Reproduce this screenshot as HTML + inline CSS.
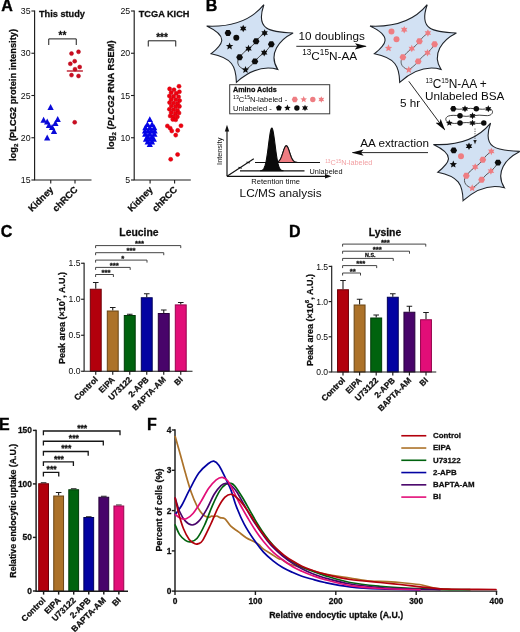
<!DOCTYPE html>
<html lang="en"><head><meta charset="utf-8"><title>Figure</title>
<style>html,body{margin:0;padding:0;background:#fff}svg{display:block}text{font-family:"Liberation Sans", Arial, sans-serif;fill:#0b0b0b}.b{font-weight:700}.pl{font-weight:700;font-size:16px;fill:#000;stroke:#000;stroke-width:0.35px}.b{stroke:#151515;stroke-width:0.28px}</style></head><body>
<svg width="520" height="632" viewBox="0 0 520 632">
<rect width="520" height="632" fill="#fff"/>
<text class="pl" x="1.2" y="11.4">A</text>
<text class="pl" x="205.8" y="11.2">B</text>
<text class="pl" x="0.7" y="237.3">C</text>
<text class="pl" x="288.9" y="237.3">D</text>
<text class="pl" x="-1.1" y="430.3">E</text>
<text class="pl" x="147" y="430.4">F</text>
<g>
<path d="M34.60,10.4 V180 H91.50" fill="none" stroke="#1c1c1c" stroke-width="1.15"/>
<path d="M31.40,11.00 H34.60" stroke="#1c1c1c" stroke-width="1.1"/>
<text x="30.60" y="14.10" font-size="8.8" text-anchor="end">35</text>
<path d="M31.40,53.25 H34.60" stroke="#1c1c1c" stroke-width="1.1"/>
<text x="30.60" y="56.35" font-size="8.8" text-anchor="end">30</text>
<path d="M31.40,95.50 H34.60" stroke="#1c1c1c" stroke-width="1.1"/>
<text x="30.60" y="98.60" font-size="8.8" text-anchor="end">25</text>
<path d="M31.40,137.75 H34.60" stroke="#1c1c1c" stroke-width="1.1"/>
<text x="30.60" y="140.85" font-size="8.8" text-anchor="end">20</text>
<path d="M31.40,180.00 H34.60" stroke="#1c1c1c" stroke-width="1.1"/>
<text x="30.60" y="183.10" font-size="8.8" text-anchor="end">15</text>
<path d="M50.75,180 V183.4" stroke="#1c1c1c" stroke-width="1.1"/>
<path d="M75.00,180 V183.4" stroke="#1c1c1c" stroke-width="1.1"/>
<text class="b" x="39.00" y="17.2" font-size="9.2">This study</text>
<text class="b" font-size="9.3" text-anchor="middle" transform="translate(15.50,95) rotate(-90)">log<tspan font-size="6.2" dy="2">2</tspan><tspan dy="-2"> </tspan>(PLCG2 protein intensity)</text>
<text class="b" font-size="9.3" text-anchor="end" transform="translate(53.95,190.30) rotate(-45)">Kidney</text>
<text class="b" font-size="9.3" text-anchor="end" transform="translate(78.20,190.30) rotate(-45)">chRCC</text>
</g>
<g>
<path d="M134.20,10.4 V180 H190.80" fill="none" stroke="#1c1c1c" stroke-width="1.15"/>
<path d="M131.00,11.00 H134.20" stroke="#1c1c1c" stroke-width="1.1"/>
<text x="130.20" y="14.10" font-size="8.8" text-anchor="end">25</text>
<path d="M131.00,53.25 H134.20" stroke="#1c1c1c" stroke-width="1.1"/>
<text x="130.20" y="56.35" font-size="8.8" text-anchor="end">20</text>
<path d="M131.00,95.50 H134.20" stroke="#1c1c1c" stroke-width="1.1"/>
<text x="130.20" y="98.60" font-size="8.8" text-anchor="end">15</text>
<path d="M131.00,137.75 H134.20" stroke="#1c1c1c" stroke-width="1.1"/>
<text x="130.20" y="140.85" font-size="8.8" text-anchor="end">10</text>
<path d="M131.00,180.00 H134.20" stroke="#1c1c1c" stroke-width="1.1"/>
<text x="130.20" y="183.10" font-size="8.8" text-anchor="end">5</text>
<path d="M150.10,180 V183.4" stroke="#1c1c1c" stroke-width="1.1"/>
<path d="M174.60,180 V183.4" stroke="#1c1c1c" stroke-width="1.1"/>
<text class="b" x="138.75" y="17.2" font-size="9.2">TCGA KICH</text>
<text class="b" font-size="9.3" text-anchor="middle" transform="translate(114.30,95) rotate(-90)">log<tspan font-size="6.2" dy="2">2</tspan><tspan dy="-2"> </tspan>(<tspan font-style="italic">PLCG2</tspan> RNA RSEM)</text>
<text class="b" font-size="9.3" text-anchor="end" transform="translate(153.30,190.30) rotate(-45)">Kidney</text>
<text class="b" font-size="9.3" text-anchor="end" transform="translate(177.80,190.30) rotate(-45)">chRCC</text>
</g>
<path d="M48.75,45 V38.9 H76.25 V45" fill="none" stroke="#1c1c1c" stroke-width="1"/>
<text class="b" x="62.5" y="38.6" font-size="10" text-anchor="middle">**</text>
<path d="M148.25,46.5 V40.8 H175.75 V46.5" fill="none" stroke="#1c1c1c" stroke-width="1"/>
<text class="b" x="162" y="40.6" font-size="10" text-anchor="middle">***</text>
<polygon points="50.60,103.90 47.45,109.90 53.75,109.90" fill="#0a0ad8"/>
<polygon points="43.60,116.70 40.45,122.70 46.75,122.70" fill="#0a0ad8"/>
<polygon points="47.20,118.60 44.05,124.60 50.35,124.60" fill="#0a0ad8"/>
<polygon points="57.70,116.10 54.55,122.10 60.85,122.10" fill="#0a0ad8"/>
<polygon points="49.00,122.10 45.85,128.10 52.15,128.10" fill="#0a0ad8"/>
<polygon points="52.10,123.90 48.95,129.90 55.25,129.90" fill="#0a0ad8"/>
<polygon points="55.40,120.10 52.25,126.10 58.55,126.10" fill="#0a0ad8"/>
<polygon points="54.00,127.90 50.85,133.90 57.15,133.90" fill="#0a0ad8"/>
<polygon points="47.20,134.60 44.05,140.60 50.35,140.60" fill="#0a0ad8"/>
<circle cx="71.50" cy="53.60" r="2.00" fill="#cc0c20" stroke="#b40a1c" stroke-width="0.5"/>
<circle cx="78.50" cy="51.80" r="2.00" fill="#cc0c20" stroke="#b40a1c" stroke-width="0.5"/>
<circle cx="74.70" cy="61.20" r="2.00" fill="#cc0c20" stroke="#b40a1c" stroke-width="0.5"/>
<circle cx="70.30" cy="63.80" r="2.00" fill="#cc0c20" stroke="#b40a1c" stroke-width="0.5"/>
<circle cx="79.70" cy="67.00" r="2.00" fill="#cc0c20" stroke="#b40a1c" stroke-width="0.5"/>
<circle cx="75.00" cy="69.20" r="2.00" fill="#cc0c20" stroke="#b40a1c" stroke-width="0.5"/>
<circle cx="71.50" cy="75.10" r="2.00" fill="#cc0c20" stroke="#b40a1c" stroke-width="0.5"/>
<circle cx="78.50" cy="76.00" r="2.00" fill="#cc0c20" stroke="#b40a1c" stroke-width="0.5"/>
<circle cx="74.70" cy="122.30" r="2.00" fill="#cc0c20" stroke="#b40a1c" stroke-width="0.5"/>
<path d="M66.8,71 H82.9" stroke="#b80a1c" stroke-width="1.3"/>
<polygon points="149.80,116.16 146.70,122.06 152.90,122.06" fill="#0505e6"/>
<polygon points="147.40,121.16 144.30,127.06 150.50,127.06" fill="#0505e6"/>
<polygon points="152.10,121.16 149.00,127.06 155.20,127.06" fill="#0505e6"/>
<polygon points="145.40,124.35 142.30,130.25 148.50,130.25" fill="#0505e6"/>
<polygon points="149.80,124.35 146.70,130.25 152.90,130.25" fill="#0505e6"/>
<polygon points="154.20,124.35 151.10,130.25 157.30,130.25" fill="#0505e6"/>
<polygon points="145.00,127.56 141.90,133.46 148.10,133.46" fill="#0505e6"/>
<polygon points="148.20,127.56 145.10,133.46 151.30,133.46" fill="#0505e6"/>
<polygon points="151.40,127.56 148.30,133.46 154.50,133.46" fill="#0505e6"/>
<polygon points="154.60,127.56 151.50,133.46 157.70,133.46" fill="#0505e6"/>
<polygon points="145.20,130.75 142.10,136.66 148.30,136.66" fill="#0505e6"/>
<polygon points="149.80,130.75 146.70,136.66 152.90,136.66" fill="#0505e6"/>
<polygon points="154.40,130.75 151.30,136.66 157.50,136.66" fill="#0505e6"/>
<polygon points="147.50,133.56 144.40,139.46 150.60,139.46" fill="#0505e6"/>
<polygon points="152.10,133.56 149.00,139.46 155.20,139.46" fill="#0505e6"/>
<polygon points="146.00,135.95 142.90,141.85 149.10,141.85" fill="#0505e6"/>
<polygon points="150.00,135.95 146.90,141.85 153.10,141.85" fill="#0505e6"/>
<polygon points="153.80,135.95 150.70,141.85 156.90,141.85" fill="#0505e6"/>
<polygon points="147.70,138.56 144.60,144.46 150.80,144.46" fill="#0505e6"/>
<polygon points="152.00,138.56 148.90,144.46 155.10,144.46" fill="#0505e6"/>
<polygon points="149.80,141.06 146.70,146.96 152.90,146.96" fill="#0505e6"/>
<circle cx="179.00" cy="86.30" r="2.05" fill="#f0000e" stroke="#cc000e" stroke-width="0.5"/>
<circle cx="169.60" cy="88.90" r="2.05" fill="#f0000e" stroke="#cc000e" stroke-width="0.5"/>
<circle cx="174.00" cy="89.80" r="2.05" fill="#f0000e" stroke="#cc000e" stroke-width="0.5"/>
<circle cx="179.40" cy="91.80" r="2.05" fill="#f0000e" stroke="#cc000e" stroke-width="0.5"/>
<circle cx="171.20" cy="92.60" r="2.05" fill="#f0000e" stroke="#cc000e" stroke-width="0.5"/>
<circle cx="176.20" cy="93.40" r="2.05" fill="#f0000e" stroke="#cc000e" stroke-width="0.5"/>
<circle cx="169.40" cy="96.00" r="2.05" fill="#f0000e" stroke="#cc000e" stroke-width="0.5"/>
<circle cx="173.60" cy="96.40" r="2.05" fill="#f0000e" stroke="#cc000e" stroke-width="0.5"/>
<circle cx="178.60" cy="96.80" r="2.05" fill="#f0000e" stroke="#cc000e" stroke-width="0.5"/>
<circle cx="171.20" cy="99.40" r="2.05" fill="#f0000e" stroke="#cc000e" stroke-width="0.5"/>
<circle cx="175.80" cy="99.80" r="2.05" fill="#f0000e" stroke="#cc000e" stroke-width="0.5"/>
<circle cx="179.60" cy="100.60" r="2.05" fill="#f0000e" stroke="#cc000e" stroke-width="0.5"/>
<circle cx="169.60" cy="102.60" r="2.05" fill="#f0000e" stroke="#cc000e" stroke-width="0.5"/>
<circle cx="173.60" cy="103.00" r="2.05" fill="#f0000e" stroke="#cc000e" stroke-width="0.5"/>
<circle cx="177.60" cy="103.60" r="2.05" fill="#f0000e" stroke="#cc000e" stroke-width="0.5"/>
<circle cx="171.40" cy="106.00" r="2.05" fill="#f0000e" stroke="#cc000e" stroke-width="0.5"/>
<circle cx="175.60" cy="106.60" r="2.05" fill="#f0000e" stroke="#cc000e" stroke-width="0.5"/>
<circle cx="179.40" cy="106.40" r="2.05" fill="#f0000e" stroke="#cc000e" stroke-width="0.5"/>
<circle cx="169.40" cy="109.20" r="2.05" fill="#f0000e" stroke="#cc000e" stroke-width="0.5"/>
<circle cx="173.40" cy="109.80" r="2.05" fill="#f0000e" stroke="#cc000e" stroke-width="0.5"/>
<circle cx="177.40" cy="110.20" r="2.05" fill="#f0000e" stroke="#cc000e" stroke-width="0.5"/>
<circle cx="171.20" cy="112.80" r="2.05" fill="#f0000e" stroke="#cc000e" stroke-width="0.5"/>
<circle cx="175.40" cy="113.40" r="2.05" fill="#f0000e" stroke="#cc000e" stroke-width="0.5"/>
<circle cx="179.00" cy="113.00" r="2.05" fill="#f0000e" stroke="#cc000e" stroke-width="0.5"/>
<circle cx="170.20" cy="116.00" r="2.05" fill="#f0000e" stroke="#cc000e" stroke-width="0.5"/>
<circle cx="173.60" cy="116.60" r="2.05" fill="#f0000e" stroke="#cc000e" stroke-width="0.5"/>
<circle cx="177.40" cy="116.80" r="2.05" fill="#f0000e" stroke="#cc000e" stroke-width="0.5"/>
<circle cx="172.80" cy="119.40" r="2.05" fill="#f0000e" stroke="#cc000e" stroke-width="0.5"/>
<circle cx="175.70" cy="119.80" r="2.05" fill="#f0000e" stroke="#cc000e" stroke-width="0.5"/>
<circle cx="167.40" cy="126.00" r="2.05" fill="#f0000e" stroke="#cc000e" stroke-width="0.5"/>
<circle cx="170.20" cy="128.20" r="2.05" fill="#f0000e" stroke="#cc000e" stroke-width="0.5"/>
<circle cx="171.80" cy="131.00" r="2.05" fill="#f0000e" stroke="#cc000e" stroke-width="0.5"/>
<circle cx="181.00" cy="125.70" r="2.05" fill="#f0000e" stroke="#cc000e" stroke-width="0.5"/>
<circle cx="177.70" cy="130.40" r="2.05" fill="#f0000e" stroke="#cc000e" stroke-width="0.5"/>
<circle cx="175.70" cy="135.10" r="2.05" fill="#f0000e" stroke="#cc000e" stroke-width="0.5"/>
<circle cx="177.60" cy="154.50" r="2.05" fill="#f0000e" stroke="#cc000e" stroke-width="0.5"/>
<circle cx="170.70" cy="159.30" r="2.05" fill="#f0000e" stroke="#cc000e" stroke-width="0.5"/>
<g transform="translate(0.00,0.00)">
<path d="M206.7,26.1 C226,27 249,23 263.9,4.7 C255,30 270,32 293.1,33 C279,40 268,54 277.7,69.4 C262,65 248,72 236.4,82.3 C236,66 232,58 211.1,53.8 C222,45 230,37 206.7,26.1 Z" fill="#d2e1f3" stroke="#1e2228" stroke-width="1.1" stroke-linejoin="miter" stroke-miterlimit="3"/>
<path d="M264.60,33.00 Q259.58,36.36 256.10,41.30 Q253.06,45.74 248.50,48.60 Q243.28,52.16 239.60,57.30 C236.5,60.5 236.6,67.5 245.5,69.8  Q250.93,66.42 254.90,61.40 Q258.80,56.25 264.20,52.70 Q268.59,49.16 271.30,44.20" fill="none" stroke="#222" stroke-width="0.8"/>
<polygon points="231.39,33.00 229.70,35.94 226.30,35.94 224.61,33.00 226.30,30.06 229.70,30.06" fill="#0c0c0c"/>
<circle cx="236.30" cy="37.70" r="2.98" fill="#0c0c0c"/>
<polygon points="243.20,24.76 244.19,26.78 246.44,26.63 245.19,28.50 246.44,30.37 244.19,30.22 243.20,32.24 242.21,30.22 239.96,30.37 241.21,28.50 239.96,26.63 242.21,26.78" fill="#0c0c0c"/>
<polygon points="229.60,42.44 230.63,44.88 233.27,45.11 231.27,46.84 231.87,49.42 229.60,48.05 227.33,49.42 227.93,46.84 225.93,45.11 228.57,44.88" fill="#0c0c0c"/>
<polygon points="264.60,29.26 265.59,31.28 267.84,31.13 266.59,33.00 267.84,34.87 265.59,34.72 264.60,36.74 263.61,34.72 261.36,34.87 262.61,33.00 261.36,31.13 263.61,31.28" fill="#0c0c0c"/>
<polygon points="259.49,41.30 257.80,44.24 254.40,44.24 252.71,41.30 254.40,38.36 257.80,38.36" fill="#0c0c0c"/>
<polygon points="248.50,44.86 249.49,46.88 251.74,46.73 250.49,48.60 251.74,50.47 249.49,50.32 248.50,52.34 247.51,50.32 245.26,50.47 246.51,48.60 245.26,46.73 247.51,46.88" fill="#0c0c0c"/>
<polygon points="242.99,57.30 241.30,60.24 237.90,60.24 236.21,57.30 237.90,54.36 241.30,54.36" fill="#0c0c0c"/>
<polygon points="245.50,65.94 246.53,68.38 249.17,68.61 247.17,70.34 247.77,72.92 245.50,71.55 243.23,72.92 243.83,70.34 241.83,68.61 244.47,68.38" fill="#0c0c0c"/>
<polygon points="258.29,61.40 256.60,64.34 253.20,64.34 251.51,61.40 253.20,58.46 256.60,58.46" fill="#0c0c0c"/>
<polygon points="264.20,48.96 265.19,50.98 267.44,50.83 266.19,52.70 267.44,54.57 265.19,54.42 264.20,56.44 263.21,54.42 260.96,54.57 262.21,52.70 260.96,50.83 263.21,50.98" fill="#0c0c0c"/>
<polygon points="274.69,44.20 273.00,47.14 269.60,47.14 267.91,44.20 269.60,41.26 273.00,41.26" fill="#0c0c0c"/>
</g>
<g transform="translate(163.30,0.00)">
<path d="M206.7,26.1 C226,27 249,23 263.9,4.7 C255,30 270,32 293.1,33 C279,40 268,54 277.7,69.4 C262,65 248,72 236.4,82.3 C236,66 232,58 211.1,53.8 C222,45 230,37 206.7,26.1 Z" fill="#d2e1f3" stroke="#1e2228" stroke-width="1.1" stroke-linejoin="miter" stroke-miterlimit="3"/>
<path d="M264.60,33.00 Q259.58,36.36 256.10,41.30 Q253.06,45.74 248.50,48.60 Q243.28,52.16 239.60,57.30 C236.5,60.5 236.6,67.5 245.5,69.8  Q250.93,66.42 254.90,61.40 Q258.80,56.25 264.20,52.70 Q268.59,49.16 271.30,44.20" fill="none" stroke="#444" stroke-width="0.8"/>
<circle cx="228.20" cy="31.50" r="2.98" fill="#ee7d82"/>
<circle cx="233.20" cy="39.20" r="2.98" fill="#ee7d82"/>
<polygon points="240.90,25.96 241.89,27.98 244.14,27.83 242.89,29.70 244.14,31.57 241.89,31.42 240.90,33.44 239.91,31.42 237.66,31.57 238.91,29.70 237.66,27.83 239.91,27.98" fill="#ee7d82"/>
<polygon points="225.20,44.34 226.23,46.78 228.87,47.01 226.87,48.74 227.47,51.32 225.20,49.96 222.93,51.32 223.53,48.74 221.53,47.01 224.17,46.78" fill="#ee7d82"/>
<polygon points="264.60,29.26 265.59,31.28 267.84,31.13 266.59,33.00 267.84,34.87 265.59,34.72 264.60,36.74 263.61,34.72 261.36,34.87 262.61,33.00 261.36,31.13 263.61,31.28" fill="#ee7d82"/>
<polygon points="259.49,41.30 257.80,44.24 254.40,44.24 252.71,41.30 254.40,38.36 257.80,38.36" fill="#ee7d82"/>
<polygon points="248.50,44.86 249.49,46.88 251.74,46.73 250.49,48.60 251.74,50.47 249.49,50.32 248.50,52.34 247.51,50.32 245.26,50.47 246.51,48.60 245.26,46.73 247.51,46.88" fill="#ee7d82"/>
<polygon points="242.99,57.30 241.30,60.24 237.90,60.24 236.21,57.30 237.90,54.36 241.30,54.36" fill="#ee7d82"/>
<polygon points="245.50,65.94 246.53,68.38 249.17,68.61 247.17,70.34 247.77,72.92 245.50,71.55 243.23,72.92 243.83,70.34 241.83,68.61 244.47,68.38" fill="#ee7d82"/>
<polygon points="258.29,61.40 256.60,64.34 253.20,64.34 251.51,61.40 253.20,58.46 256.60,58.46" fill="#ee7d82"/>
<polygon points="264.20,48.96 265.19,50.98 267.44,50.83 266.19,52.70 267.44,54.57 265.19,54.42 264.20,56.44 263.21,54.42 260.96,54.57 262.21,52.70 260.96,50.83 263.21,50.98" fill="#ee7d82"/>
<polygon points="274.69,44.20 273.00,47.14 269.60,47.14 267.91,44.20 269.60,41.26 273.00,41.26" fill="#ee7d82"/>
</g>
<g transform="translate(226.70,118.40)">
<path d="M206.7,26.1 C226,27 249,23 263.9,4.7 C255,30 270,32 293.1,33 C279,40 268,54 277.7,69.4 C262,65 248,72 236.4,82.3 C236,66 232,58 211.1,53.8 C222,45 230,37 206.7,26.1 Z" fill="#d2e1f3" stroke="#1e2228" stroke-width="1.1" stroke-linejoin="miter" stroke-miterlimit="3"/>
<path d="M264.60,33.00 Q259.58,36.36 256.10,41.30 Q253.06,45.74 248.50,48.60 Q243.28,52.16 239.60,57.30 C236.5,60.5 236.6,67.5 245.5,69.8  Q250.93,66.42 254.90,61.40 Q258.80,56.25 264.20,52.70 Q268.59,49.16 271.30,44.20" fill="none" stroke="#333" stroke-width="0.8"/>
<polygon points="230.39,32.00 228.70,34.94 225.30,34.94 223.61,32.00 225.30,29.06 228.70,29.06" fill="#0c0c0c"/>
<circle cx="234.30" cy="37.80" r="2.98" fill="#ee7d82"/>
<polygon points="242.30,24.06 243.29,26.08 245.54,25.93 244.29,27.80 245.54,29.67 243.29,29.52 242.30,31.54 241.31,29.52 239.06,29.67 240.31,27.80 239.06,25.93 241.31,26.08" fill="#0c0c0c"/>
<polygon points="226.60,42.14 227.63,44.58 230.27,44.81 228.27,46.54 228.87,49.12 226.60,47.76 224.33,49.12 224.93,46.54 222.93,44.81 225.57,44.58" fill="#0c0c0c"/>
<polygon points="264.60,29.26 265.59,31.28 267.84,31.13 266.59,33.00 267.84,34.87 265.59,34.72 264.60,36.74 263.61,34.72 261.36,34.87 262.61,33.00 261.36,31.13 263.61,31.28" fill="#ee7d82"/>
<polygon points="259.49,41.30 257.80,44.24 254.40,44.24 252.71,41.30 254.40,38.36 257.80,38.36" fill="#ee7d82"/>
<polygon points="248.50,44.86 249.49,46.88 251.74,46.73 250.49,48.60 251.74,50.47 249.49,50.32 248.50,52.34 247.51,50.32 245.26,50.47 246.51,48.60 245.26,46.73 247.51,46.88" fill="#ee7d82"/>
<polygon points="242.99,57.30 241.30,60.24 237.90,60.24 236.21,57.30 237.90,54.36 241.30,54.36" fill="#ee7d82"/>
<polygon points="245.50,65.94 246.53,68.38 249.17,68.61 247.17,70.34 247.77,72.92 245.50,71.55 243.23,72.92 243.83,70.34 241.83,68.61 244.47,68.38" fill="#ee7d82"/>
<polygon points="258.29,61.40 256.60,64.34 253.20,64.34 251.51,61.40 253.20,58.46 256.60,58.46" fill="#ee7d82"/>
<polygon points="264.20,48.96 265.19,50.98 267.44,50.83 266.19,52.70 267.44,54.57 265.19,54.42 264.20,56.44 263.21,54.42 260.96,54.57 262.21,52.70 260.96,50.83 263.21,50.98" fill="#ee7d82"/>
<polygon points="274.69,44.20 273.00,47.14 269.60,47.14 267.91,44.20 269.60,41.26 273.00,41.26" fill="#0c0c0c"/>
</g>
<defs><marker id="ah" markerWidth="12" markerHeight="8" refX="11" refY="4" orient="auto" markerUnits="userSpaceOnUse"><path d="M0,0.8 L12,4 L0,7.2 L2.6,4 Z" fill="#0a0a0a"/></marker></defs>
<path d="M296.3,46.3 H365.8" stroke="#111" stroke-width="0.9" marker-end="url(#ah)"/>
<text x="331.6" y="40.1" font-size="11.7" text-anchor="middle">10 doublings</text>
<text x="302.2" y="60.2" font-size="11.8"><tspan font-size="8.2" dy="-5.0">13</tspan><tspan dy="5">C</tspan><tspan font-size="8.2" dy="-5.0">15</tspan><tspan dy="5">N-AA</tspan></text>
<text x="425.4" y="88" font-size="11.9"><tspan font-size="6.6" dy="-4.6">13</tspan><tspan dy="4.6">C</tspan><tspan font-size="6.6" dy="-4.6">15</tspan><tspan dy="4.6">N-AA +</tspan></text>
<text x="425" y="100" font-size="11.7">Unlabeled BSA</text>
<text x="400" y="106.6" font-size="11.7">5 hr</text>
<path d="M408.8,81.3 L444.6,129.6" stroke="#111" stroke-width="0.9" marker-end="url(#ah)"/>
<text x="360.2" y="146.9" font-size="11.7">AA extraction</text>
<path d="M428,152.6 H352.6" stroke="#111" stroke-width="0.9" marker-end="url(#ah)"/>
<path d="M453.30,108.80 Q459.15,109.70 465.00,108.80 Q470.65,107.90 476.30,108.80 Q482.30,109.70 488.30,108.80 C494.5,108.6 494,116.3 486,115.6 Q479,114.6 472.5,115.8 Q466,116.9 460,115.8 Q452,114.8 448.5,116 C444.6,117.5 445,121.5 449.3,123  Q454.65,123.90 460.00,123.00 Q466.25,122.10 472.50,123.00 Q478.15,123.90 483.80,123.00" fill="none" stroke="#111" stroke-width="0.8"/>
<polygon points="456.42,108.80 454.86,111.50 451.74,111.50 450.18,108.80 451.74,106.10 454.86,106.10" fill="#0c0c0c"/>
<polygon points="465.00,105.36 465.91,107.22 467.98,107.08 466.83,108.80 467.98,110.52 465.91,110.38 465.00,112.24 464.09,110.38 462.02,110.52 463.17,108.80 462.02,107.08 464.09,107.22" fill="#0c0c0c"/>
<circle cx="476.30" cy="108.80" r="2.74" fill="#0c0c0c"/>
<polygon points="488.30,105.36 489.21,107.22 491.28,107.08 490.13,108.80 491.28,110.52 489.21,110.38 488.30,112.24 487.39,110.38 485.32,110.52 486.47,108.80 485.32,107.08 487.39,107.22" fill="#0c0c0c"/>
<circle cx="460.00" cy="115.80" r="2.74" fill="#0c0c0c"/>
<polygon points="472.50,112.36 473.41,114.22 475.48,114.08 474.33,115.80 475.48,117.52 473.41,117.38 472.50,119.24 471.59,117.38 469.52,117.52 470.67,115.80 469.52,114.08 471.59,114.22" fill="#0c0c0c"/>
<polygon points="449.30,119.45 450.25,121.69 452.68,121.90 450.84,123.50 451.39,125.87 449.30,124.61 447.21,125.87 447.76,123.50 445.92,121.90 448.35,121.69" fill="#0c0c0c"/>
<circle cx="460.00" cy="123.00" r="2.74" fill="#0c0c0c"/>
<polygon points="472.50,119.56 473.41,121.42 475.48,121.28 474.33,123.00 475.48,124.72 473.41,124.58 472.50,126.44 471.59,124.58 469.52,124.72 470.67,123.00 469.52,121.28 471.59,121.42" fill="#0c0c0c"/>
<circle cx="483.80" cy="123.00" r="2.74" fill="#0c0c0c"/>
<path d="M475,128.5 V141" stroke="#333" stroke-width="0.8" stroke-dasharray="1.2,1.1"/>
<path d="M473.3,140 L475,144.3 L476.7,140 Z" fill="#222"/>
<rect x="229.7" y="84.7" width="100" height="29.1" fill="#fff" stroke="#3a3a3a" stroke-width="1"/>
<text class="b" x="233" y="92.4" font-size="7.2">Amino Acids</text>
<text x="233" y="101.9" font-size="7.6"><tspan font-size="5.2" dy="-2.8">13</tspan><tspan dy="2.8">C</tspan><tspan font-size="5.2" dy="-2.8">15</tspan><tspan dy="2.8">N-labeled - </tspan></text>
<text x="233" y="110.6" font-size="7.6">Unlabeled - </text>
<polygon points="297.85,99.50 296.33,102.14 293.27,102.14 291.75,99.50 293.27,96.86 296.33,96.86" fill="#ee7d82"/>
<polygon points="303.70,96.03 304.63,98.22 307.00,98.43 305.20,99.99 305.74,102.31 303.70,101.08 301.66,102.31 302.20,99.99 300.40,98.43 302.77,98.22" fill="#ee7d82"/>
<circle cx="312.80" cy="99.50" r="2.69" fill="#ee7d82"/>
<polygon points="321.30,96.13 322.20,97.95 324.22,97.82 323.09,99.50 324.22,101.18 322.20,101.05 321.30,102.87 320.40,101.05 318.38,101.18 319.51,99.50 318.38,97.82 320.40,97.95" fill="#ee7d82"/>
<polygon points="278.90,104.95 281.80,107.06 280.69,110.47 277.11,110.47 276.00,107.06" fill="#0c0c0c"/>
<polygon points="287.40,104.53 288.33,106.72 290.70,106.93 288.90,108.49 289.44,110.81 287.40,109.58 285.36,110.81 285.90,108.49 284.10,106.93 286.47,106.72" fill="#0c0c0c"/>
<circle cx="296.90" cy="108.00" r="2.69" fill="#0c0c0c"/>
<polygon points="305.00,104.63 305.90,106.45 307.92,106.32 306.79,108.00 307.92,109.68 305.90,109.55 305.00,111.37 304.10,109.55 302.08,109.68 303.21,108.00 302.08,106.32 304.10,106.45" fill="#0c0c0c"/>
<path d="M227,176.3 V128" stroke="#111" stroke-width="1.15"/><path d="M224.8,131.5 L227,124.8 L229.2,131.5 Z" fill="#111"/>
<path d="M227,176.3 H327" stroke="#111" stroke-width="1.15"/><path d="M325,174.1 L331.5,176.3 L325,178.5 Z" fill="#111"/>
<path d="M227,176.3 L253.8,158.7" stroke="#111" stroke-width="1.15"/>
<path d="M238.5,167.3 L241.8,168.3 M246.5,162 L249.8,163" stroke="#111" stroke-width="1.05"/>
<path d="M255.00,162.50 L255.50,162.50 L256.00,162.50 L256.50,162.50 L257.00,162.50 L257.50,162.50 L258.00,162.50 L258.50,162.50 L259.00,162.50 L259.50,162.50 L260.00,162.50 L260.50,162.50 L261.00,162.50 L261.50,162.50 L262.00,162.50 L262.50,162.50 L263.00,162.50 L263.50,162.50 L264.00,162.50 L264.50,162.50 L265.00,162.50 L265.50,162.50 L266.00,162.50 L266.50,162.50 L267.00,162.50 L267.50,162.50 L268.00,162.50 L268.50,162.50 L269.00,162.50 L269.50,162.50 L270.00,162.50 L270.50,162.50 L271.00,162.50 L271.50,162.50 L272.00,162.50 L272.50,162.50 L273.00,162.50 L273.50,162.49 L274.00,162.48 L274.50,162.47 L275.00,162.45 L275.50,162.42 L276.00,162.37 L276.50,162.30 L277.00,162.19 L277.50,162.02 L278.00,161.79 L278.50,161.48 L279.00,161.05 L279.50,160.50 L280.00,159.80 L280.50,158.94 L281.00,157.90 L281.50,156.70 L282.00,155.35 L282.50,153.89 L283.00,152.37 L283.50,150.85 L284.00,149.40 L284.50,148.11 L285.00,147.05 L285.50,146.28 L286.00,145.87 L286.50,145.83 L287.00,146.17 L287.50,146.87 L288.00,147.88 L288.50,149.13 L289.00,150.55 L289.50,152.06 L290.00,153.59 L290.50,155.07 L291.00,156.44 L291.50,157.67 L292.00,158.74 L292.50,159.64 L293.00,160.37 L293.50,160.95 L294.00,161.40 L294.50,161.74 L295.00,161.98 L295.50,162.16 L296.00,162.28 L296.50,162.36 L297.00,162.41 L297.50,162.45 L298.00,162.47 L298.50,162.48 L299.00,162.49 L299.50,162.49 L300.00,162.50 L300.50,162.50 L301.00,162.50 L301.50,162.50 L302.00,162.50 L302.50,162.50 L303.00,162.50 L303.50,162.50 L304.00,162.50 L304.50,162.50 L305.00,162.50 L305.50,162.50 L306.00,162.50 L306.50,162.50 L307.00,162.50 L307.50,162.50 L308.00,162.50 L308.50,162.50 L309.00,162.50 L309.50,162.50 L310.00,162.50 L310.50,162.50 L311.00,162.50 L311.50,162.50 L312.00,162.50 L312.50,162.50 L313.00,162.50 L313.50,162.50 L314.00,162.50 L314.50,162.50 L315.00,162.50 L315.50,162.50 L316.00,162.50 L316.50,162.50 L317.00,162.50 L317.50,162.50 L318.00,162.50 L318.50,162.50 L319.00,162.50 L319.50,162.50 L320.00,162.50" fill="none" stroke="#111" stroke-width="1.15"/>
<path d="M276.00,162.37 L276.50,162.30 L277.00,162.19 L277.50,162.02 L278.00,161.79 L278.50,161.48 L279.00,161.05 L279.50,160.50 L280.00,159.80 L280.50,158.94 L281.00,157.90 L281.50,156.70 L282.00,155.35 L282.50,153.89 L283.00,152.37 L283.50,150.85 L284.00,149.40 L284.50,148.11 L285.00,147.05 L285.50,146.28 L286.00,145.87 L286.50,145.83 L287.00,146.17 L287.50,146.87 L288.00,147.88 L288.50,149.13 L289.00,150.55 L289.50,152.06 L290.00,153.59 L290.50,155.07 L291.00,156.44 L291.50,157.67 L292.00,158.74 L292.50,159.64 L293.00,160.37 L293.50,160.95 L294.00,161.40 L294.50,161.74 L295.00,161.98 L295.50,162.16 L296.00,162.28 L296.50,162.36 L297.00,162.41 Z" fill="#ee7d82" stroke="#111" stroke-width="1.05"/>
<path d="M240,170.8 H304.5" stroke="#111" stroke-width="1.15"/>
<path d="M260.00,170.73 L260.50,170.68 L261.00,170.60 L261.50,170.47 L262.00,170.28 L262.50,169.99 L263.00,169.58 L263.50,168.99 L264.00,168.18 L264.50,167.09 L265.00,165.68 L265.50,163.88 L266.00,161.67 L266.50,159.02 L267.00,155.94 L267.50,152.49 L268.00,148.74 L268.50,144.84 L269.00,140.94 L269.50,137.23 L270.00,133.92 L270.50,131.20 L271.00,129.24 L271.50,128.18 L272.00,128.08 L272.50,128.95 L273.00,130.74 L273.50,133.32 L274.00,136.53 L274.50,140.17 L275.00,144.05 L275.50,147.97 L276.00,151.76 L276.50,155.28 L277.00,158.43 L277.50,161.17 L278.00,163.47 L278.50,165.35 L279.00,166.84 L279.50,167.99 L280.00,168.85 L280.50,169.48 L281.00,169.92 L281.50,170.23 L282.00,170.44 L282.50,170.58 L283.00,170.67 L283.50,170.72 Z" fill="#0a0a0a" stroke="#0a0a0a" stroke-width="1.05"/>
<text font-size="7.3" text-anchor="middle" transform="translate(222.3,151.3) rotate(-90)">Intensity</text>
<text x="275.6" y="183.9" font-size="7.55" text-anchor="middle">Retention time</text>
<text x="309.6" y="173.8" font-size="7.3">Unlabeled</text>
<text x="325.2" y="165" font-size="7.3" style="fill:#f2a0a3"><tspan font-size="4.8" dy="-2.4">13</tspan><tspan dy="2.4">C</tspan><tspan font-size="4.8" dy="-2.4">15</tspan><tspan dy="2.4">N-labeled</tspan></text>
<text x="280.6" y="197.2" font-size="11.8" text-anchor="middle">LC/MS analysis</text>
<path d="M95.75,288.75 V282.50 M92.95,282.50 H98.55" stroke="#1c1c1c" stroke-width="1.1" fill="none"/>
<rect x="90.30" y="289.25" width="10.90" height="82.00" fill="#b2000c" stroke="#6e0008" stroke-width="1"/>
<path d="M112.75,310.50 V307.50 M109.95,307.50 H115.55" stroke="#1c1c1c" stroke-width="1.1" fill="none"/>
<rect x="107.30" y="311.00" width="10.90" height="60.25" fill="#ac7229" stroke="#684414" stroke-width="1"/>
<path d="M129.75,315.00 V314.25 M126.95,314.25 H132.55" stroke="#1c1c1c" stroke-width="1.1" fill="none"/>
<rect x="124.30" y="315.50" width="10.90" height="55.75" fill="#00630e" stroke="#003a08" stroke-width="1"/>
<path d="M146.75,297.25 V293.75 M143.95,293.75 H149.55" stroke="#1c1c1c" stroke-width="1.1" fill="none"/>
<rect x="141.30" y="297.75" width="10.90" height="73.50" fill="#0303a2" stroke="#02025a" stroke-width="1"/>
<path d="M163.75,313.00 V310.00 M160.95,310.00 H166.55" stroke="#1c1c1c" stroke-width="1.1" fill="none"/>
<rect x="158.30" y="313.50" width="10.90" height="57.75" fill="#48046a" stroke="#26033a" stroke-width="1"/>
<path d="M180.75,304.40 V302.50 M177.95,302.50 H183.55" stroke="#1c1c1c" stroke-width="1.1" fill="none"/>
<rect x="175.30" y="304.90" width="10.90" height="66.35" fill="#e20e78" stroke="#96064e" stroke-width="1"/>
<path d="M84.10,262.70 V371.25 H192.50" fill="none" stroke="#1c1c1c" stroke-width="1.15"/>
<path d="M81.10,263.25 H84.10" stroke="#1c1c1c" stroke-width="1.15"/>
<text  x="80.50" y="266.35" font-size="8.6" text-anchor="end">1.5</text>
<path d="M81.10,299.25 H84.10" stroke="#1c1c1c" stroke-width="1.15"/>
<text  x="80.50" y="302.35" font-size="8.6" text-anchor="end">1.0</text>
<path d="M81.10,335.25 H84.10" stroke="#1c1c1c" stroke-width="1.15"/>
<text  x="80.50" y="338.35" font-size="8.6" text-anchor="end">0.5</text>
<path d="M81.10,371.25 H84.10" stroke="#1c1c1c" stroke-width="1.15"/>
<text  x="80.50" y="374.35" font-size="8.6" text-anchor="end">0.0</text>
<path d="M95.75,371.25 V374.65" stroke="#1c1c1c" stroke-width="1.15"/>
<text class="b" font-size="8.3" text-anchor="end" transform="translate(98.35,380.15) rotate(-45)">Control</text>
<path d="M112.75,371.25 V374.65" stroke="#1c1c1c" stroke-width="1.15"/>
<text class="b" font-size="8.3" text-anchor="end" transform="translate(115.35,380.15) rotate(-45)">EIPA</text>
<path d="M129.75,371.25 V374.65" stroke="#1c1c1c" stroke-width="1.15"/>
<text class="b" font-size="8.3" text-anchor="end" transform="translate(132.35,380.15) rotate(-45)">U73122</text>
<path d="M146.75,371.25 V374.65" stroke="#1c1c1c" stroke-width="1.15"/>
<text class="b" font-size="8.3" text-anchor="end" transform="translate(149.35,380.15) rotate(-45)">2-APB</text>
<path d="M163.75,371.25 V374.65" stroke="#1c1c1c" stroke-width="1.15"/>
<text class="b" font-size="8.3" text-anchor="end" transform="translate(166.35,380.15) rotate(-45)">BAPTA-AM</text>
<path d="M180.75,371.25 V374.65" stroke="#1c1c1c" stroke-width="1.15"/>
<text class="b" font-size="8.3" text-anchor="end" transform="translate(183.35,380.15) rotate(-45)">BI</text>
<path d="M95.60,277.00 V274.50 H113.40 V277.00" fill="none" stroke="#3a3a3a" stroke-width="0.95"/>
<text class="b" x="105.90" y="275.15" font-size="7.7" text-anchor="middle">***</text>
<path d="M95.60,269.90 V267.40 H130.20 V269.90" fill="none" stroke="#3a3a3a" stroke-width="0.95"/>
<text class="b" x="114.30" y="268.05" font-size="7.7" text-anchor="middle">***</text>
<path d="M95.60,262.60 V260.10 H147.00 V262.60" fill="none" stroke="#3a3a3a" stroke-width="0.95"/>
<text class="b" x="122.70" y="260.75" font-size="7.7" text-anchor="middle">*</text>
<path d="M95.60,255.20 V252.70 H163.75 V255.20" fill="none" stroke="#3a3a3a" stroke-width="0.95"/>
<text class="b" x="131.08" y="253.35" font-size="7.7" text-anchor="middle">***</text>
<path d="M95.60,248.10 V245.60 H180.75 V248.10" fill="none" stroke="#3a3a3a" stroke-width="0.95"/>
<text class="b" x="139.58" y="246.25" font-size="7.7" text-anchor="middle">***</text>
<text class="b" x="139" y="236.4" font-size="10.4" text-anchor="middle">Leucine</text>
<text class="b" font-size="9" text-anchor="middle" transform="translate(65,318) rotate(-90)">Peak area (×10<tspan font-size="6.2" dy="-3.6">7</tspan><tspan dy="3.6">, A.U.)</tspan></text>
<path d="M343.00,289.25 V280.50 M340.20,280.50 H345.80" stroke="#1c1c1c" stroke-width="1.1" fill="none"/>
<rect x="337.55" y="289.75" width="10.90" height="82.25" fill="#b2000c" stroke="#6e0008" stroke-width="1"/>
<path d="M359.60,304.50 V299.25 M356.80,299.25 H362.40" stroke="#1c1c1c" stroke-width="1.1" fill="none"/>
<rect x="354.15" y="305.00" width="10.90" height="67.00" fill="#ac7229" stroke="#684414" stroke-width="1"/>
<path d="M376.20,317.50 V315.00 M373.40,315.00 H379.00" stroke="#1c1c1c" stroke-width="1.1" fill="none"/>
<rect x="370.75" y="318.00" width="10.90" height="54.00" fill="#00630e" stroke="#003a08" stroke-width="1"/>
<path d="M392.80,296.75 V293.75 M390.00,293.75 H395.60" stroke="#1c1c1c" stroke-width="1.1" fill="none"/>
<rect x="387.35" y="297.25" width="10.90" height="74.75" fill="#0303a2" stroke="#02025a" stroke-width="1"/>
<path d="M409.40,311.75 V306.25 M406.60,306.25 H412.20" stroke="#1c1c1c" stroke-width="1.1" fill="none"/>
<rect x="403.95" y="312.25" width="10.90" height="59.75" fill="#48046a" stroke="#26033a" stroke-width="1"/>
<path d="M426.00,319.25 V312.50 M423.20,312.50 H428.80" stroke="#1c1c1c" stroke-width="1.1" fill="none"/>
<rect x="420.55" y="319.75" width="10.90" height="52.25" fill="#e20e78" stroke="#96064e" stroke-width="1"/>
<path d="M331.70,265.85 V372.00 H436.25" fill="none" stroke="#1c1c1c" stroke-width="1.15"/>
<path d="M328.70,266.40 H331.70" stroke="#1c1c1c" stroke-width="1.15"/>
<text  x="328.10" y="269.50" font-size="8.6" text-anchor="end">1.5</text>
<path d="M328.70,301.60 H331.70" stroke="#1c1c1c" stroke-width="1.15"/>
<text  x="328.10" y="304.70" font-size="8.6" text-anchor="end">1.0</text>
<path d="M328.70,336.80 H331.70" stroke="#1c1c1c" stroke-width="1.15"/>
<text  x="328.10" y="339.90" font-size="8.6" text-anchor="end">0.5</text>
<path d="M328.70,372.00 H331.70" stroke="#1c1c1c" stroke-width="1.15"/>
<text  x="328.10" y="375.10" font-size="8.6" text-anchor="end">0.0</text>
<path d="M343.00,372.00 V375.40" stroke="#1c1c1c" stroke-width="1.15"/>
<text class="b" font-size="8.3" text-anchor="end" transform="translate(345.60,380.90) rotate(-45)">Control</text>
<path d="M359.60,372.00 V375.40" stroke="#1c1c1c" stroke-width="1.15"/>
<text class="b" font-size="8.3" text-anchor="end" transform="translate(362.20,380.90) rotate(-45)">EIPA</text>
<path d="M376.20,372.00 V375.40" stroke="#1c1c1c" stroke-width="1.15"/>
<text class="b" font-size="8.3" text-anchor="end" transform="translate(378.80,380.90) rotate(-45)">U73122</text>
<path d="M392.80,372.00 V375.40" stroke="#1c1c1c" stroke-width="1.15"/>
<text class="b" font-size="8.3" text-anchor="end" transform="translate(395.40,380.90) rotate(-45)">2-APB</text>
<path d="M409.40,372.00 V375.40" stroke="#1c1c1c" stroke-width="1.15"/>
<text class="b" font-size="8.3" text-anchor="end" transform="translate(412.00,380.90) rotate(-45)">BAPTA-AM</text>
<path d="M426.00,372.00 V375.40" stroke="#1c1c1c" stroke-width="1.15"/>
<text class="b" font-size="8.3" text-anchor="end" transform="translate(428.60,380.90) rotate(-45)">BI</text>
<path d="M342.60,275.50 V273.00 H360.50 V275.50" fill="none" stroke="#3a3a3a" stroke-width="0.95"/>
<text class="b" x="352.75" y="273.65" font-size="7.7" text-anchor="middle">**</text>
<path d="M342.60,268.10 V265.60 H376.70 V268.10" fill="none" stroke="#3a3a3a" stroke-width="0.95"/>
<text class="b" x="360.85" y="266.25" font-size="7.7" text-anchor="middle">***</text>
<path d="M342.60,260.90 V258.40 H393.25 V260.90" fill="none" stroke="#3a3a3a" stroke-width="0.95"/>
<text class="b" x="370.32" y="257.40" font-size="5.4" text-anchor="middle">N.S.</text>
<path d="M342.60,253.70 V251.20 H409.50 V253.70" fill="none" stroke="#3a3a3a" stroke-width="0.95"/>
<text class="b" x="377.25" y="251.85" font-size="7.7" text-anchor="middle">***</text>
<path d="M342.60,246.60 V244.10 H425.75 V246.60" fill="none" stroke="#3a3a3a" stroke-width="0.95"/>
<text class="b" x="385.38" y="244.75" font-size="7.7" text-anchor="middle">***</text>
<text class="b" x="385" y="235.6" font-size="10.4" text-anchor="middle">Lysine</text>
<text class="b" font-size="9" text-anchor="middle" transform="translate(312.5,320) rotate(-90)">Peak area (×10<tspan font-size="6.2" dy="-3.6">6</tspan><tspan dy="3.6">, A.U.)</tspan></text>
<path d="M43.60,483.25 V482.75 M40.80,482.75 H46.40" stroke="#1c1c1c" stroke-width="1.1" fill="none"/>
<rect x="38.70" y="483.75" width="9.80" height="107.45" fill="#b2000c" stroke="#6e0008" stroke-width="1"/>
<path d="M58.65,495.50 V492.50 M55.85,492.50 H61.45" stroke="#1c1c1c" stroke-width="1.1" fill="none"/>
<rect x="53.75" y="496.00" width="9.80" height="95.20" fill="#ac7229" stroke="#684414" stroke-width="1"/>
<path d="M73.70,489.25 V488.75 M70.90,488.75 H76.50" stroke="#1c1c1c" stroke-width="1.1" fill="none"/>
<rect x="68.80" y="489.75" width="9.80" height="101.45" fill="#00630e" stroke="#003a08" stroke-width="1"/>
<path d="M88.75,517.00 V516.75 M85.95,516.75 H91.55" stroke="#1c1c1c" stroke-width="1.1" fill="none"/>
<rect x="83.85" y="517.50" width="9.80" height="73.70" fill="#0303a2" stroke="#02025a" stroke-width="1"/>
<path d="M103.80,496.75 V496.25 M101.00,496.25 H106.60" stroke="#1c1c1c" stroke-width="1.1" fill="none"/>
<rect x="98.90" y="497.25" width="9.80" height="93.95" fill="#48046a" stroke="#26033a" stroke-width="1"/>
<path d="M118.85,505.50 V505.00 M116.05,505.00 H121.65" stroke="#1c1c1c" stroke-width="1.1" fill="none"/>
<rect x="113.95" y="506.00" width="9.80" height="85.20" fill="#e20e78" stroke="#96064e" stroke-width="1"/>
<path d="M36.10,429.85 V591.20 H128.00" fill="none" stroke="#1c1c1c" stroke-width="1.45"/>
<path d="M32.90,430.40 H36.10" stroke="#1c1c1c" stroke-width="1.45"/>
<text class="b" x="31.90" y="433.42" font-size="8.4" text-anchor="end">150</text>
<path d="M32.90,483.90 H36.10" stroke="#1c1c1c" stroke-width="1.45"/>
<text class="b" x="31.90" y="486.92" font-size="8.4" text-anchor="end">100</text>
<path d="M32.90,537.40 H36.10" stroke="#1c1c1c" stroke-width="1.45"/>
<text class="b" x="31.90" y="540.42" font-size="8.4" text-anchor="end">50</text>
<path d="M32.90,591.00 H36.10" stroke="#1c1c1c" stroke-width="1.45"/>
<text class="b" x="31.90" y="594.02" font-size="8.4" text-anchor="end">0</text>
<path d="M43.60,591.20 V594.60" stroke="#1c1c1c" stroke-width="1.45"/>
<text class="b" font-size="8.5" text-anchor="end" transform="translate(46.20,600.80) rotate(-45)">Control</text>
<path d="M58.65,591.20 V594.60" stroke="#1c1c1c" stroke-width="1.45"/>
<text class="b" font-size="8.5" text-anchor="end" transform="translate(61.25,600.80) rotate(-45)">EIPA</text>
<path d="M73.70,591.20 V594.60" stroke="#1c1c1c" stroke-width="1.45"/>
<text class="b" font-size="8.5" text-anchor="end" transform="translate(76.30,600.80) rotate(-45)">U73122</text>
<path d="M88.75,591.20 V594.60" stroke="#1c1c1c" stroke-width="1.45"/>
<text class="b" font-size="8.5" text-anchor="end" transform="translate(91.35,600.80) rotate(-45)">2-APB</text>
<path d="M103.80,591.20 V594.60" stroke="#1c1c1c" stroke-width="1.45"/>
<text class="b" font-size="8.5" text-anchor="end" transform="translate(106.40,600.80) rotate(-45)">BAPTA-AM</text>
<path d="M118.85,591.20 V594.60" stroke="#1c1c1c" stroke-width="1.45"/>
<text class="b" font-size="8.5" text-anchor="end" transform="translate(121.45,600.80) rotate(-45)">BI</text>
<path d="M43.40,476.50 V472.30 H58.75 V476.50" fill="none" stroke="#161616" stroke-width="1.3"/>
<text class="b" x="51.58" y="471.90" font-size="8.6" text-anchor="middle">***</text>
<path d="M43.40,466.10 V461.90 H73.40 V466.10" fill="none" stroke="#161616" stroke-width="1.3"/>
<text class="b" x="58.90" y="461.50" font-size="8.6" text-anchor="middle">***</text>
<path d="M43.40,455.70 V451.50 H88.20 V455.70" fill="none" stroke="#161616" stroke-width="1.3"/>
<text class="b" x="66.30" y="451.10" font-size="8.6" text-anchor="middle">***</text>
<path d="M43.40,445.45 V441.25 H103.30 V445.45" fill="none" stroke="#161616" stroke-width="1.3"/>
<text class="b" x="73.85" y="440.85" font-size="8.6" text-anchor="middle">***</text>
<path d="M43.40,435.20 V431.00 H120.00 V435.20" fill="none" stroke="#161616" stroke-width="1.3"/>
<text class="b" x="82.20" y="430.60" font-size="8.6" text-anchor="middle">***</text>
<text class="b" font-size="8.8" text-anchor="middle" transform="translate(15.6,510.7) rotate(-90)">Relative endocytic uptake (A.U.)</text>
<path d="M175,429.3 V591.1 H497.2" fill="none" stroke="#1c1c1c" stroke-width="1.45"/>
<path d="M171.8,430.00 H175" stroke="#1c1c1c" stroke-width="1.4"/>
<text class="b" x="171.4" y="433.00" font-size="8.4" text-anchor="end">4</text>
<path d="M171.8,470.30 H175" stroke="#1c1c1c" stroke-width="1.4"/>
<text class="b" x="171.4" y="473.30" font-size="8.4" text-anchor="end">3</text>
<path d="M171.8,510.60 H175" stroke="#1c1c1c" stroke-width="1.4"/>
<text class="b" x="171.4" y="513.60" font-size="8.4" text-anchor="end">2</text>
<path d="M171.8,550.90 H175" stroke="#1c1c1c" stroke-width="1.4"/>
<text class="b" x="171.4" y="553.90" font-size="8.4" text-anchor="end">1</text>
<path d="M171.8,591.10 H175" stroke="#1c1c1c" stroke-width="1.4"/>
<text class="b" x="171.4" y="594.10" font-size="8.4" text-anchor="end">0</text>
<path d="M175.00,591.1 V595" stroke="#1c1c1c" stroke-width="1.4"/>
<text class="b" x="175.00" y="603.5" font-size="8.4" text-anchor="middle">0</text>
<path d="M255.40,591.1 V595" stroke="#1c1c1c" stroke-width="1.4"/>
<text class="b" x="255.40" y="603.5" font-size="8.4" text-anchor="middle">100</text>
<path d="M335.80,591.1 V595" stroke="#1c1c1c" stroke-width="1.4"/>
<text class="b" x="335.80" y="603.5" font-size="8.4" text-anchor="middle">200</text>
<path d="M416.20,591.1 V595" stroke="#1c1c1c" stroke-width="1.4"/>
<text class="b" x="416.20" y="603.5" font-size="8.4" text-anchor="middle">300</text>
<path d="M496.50,591.1 V595" stroke="#1c1c1c" stroke-width="1.4"/>
<text class="b" x="496.50" y="603.5" font-size="8.4" text-anchor="middle">400</text>
<text class="b" x="336.2" y="618.2" font-size="8.8" text-anchor="middle">Relative endocytic uptake (A.U.)</text>
<text class="b" font-size="9" text-anchor="middle" transform="translate(161.5,510) rotate(-90)">Percent of cells (%)</text>
<path d="M175.20,436.50 C175.93,439.07 177.90,445.80 179.60,451.90 C181.30,458.00 183.47,466.37 185.40,473.10 C187.33,479.83 189.28,486.85 191.20,492.30 C193.12,497.75 194.98,502.12 196.90,505.80 C198.82,509.48 200.77,512.48 202.70,514.40 C204.63,516.32 207.03,517.00 208.50,517.30 C209.97,517.60 210.55,516.32 211.50,516.20 C212.45,516.08 213.28,516.63 214.20,516.60 C215.12,516.57 216.03,515.83 217.00,516.00 C217.97,516.17 218.67,517.13 220.00,517.60 C221.33,518.07 223.20,517.37 225.00,518.80 C226.80,520.23 228.55,524.02 230.80,526.20 C233.05,528.38 235.93,529.98 238.50,531.90 C241.07,533.82 243.65,536.10 246.20,537.70 C248.75,539.30 251.72,540.38 253.80,541.50 C255.88,542.62 257.08,543.12 258.70,544.40 C260.32,545.68 261.42,547.60 263.50,549.20 C265.58,550.80 268.65,552.40 271.20,554.00 C273.75,555.60 277.17,557.97 278.80,558.80 C280.43,559.63 279.72,558.35 281.00,559.00 C282.28,559.65 284.62,561.70 286.50,562.70 C288.38,563.70 289.73,564.20 292.30,565.00 C294.87,565.80 298.70,566.60 301.90,567.50 C305.10,568.40 307.65,569.32 311.50,570.40 C315.35,571.48 318.58,572.73 325.00,574.00 C331.42,575.27 342.50,576.83 350.00,578.00 C357.50,579.17 363.83,580.40 370.00,581.00 C376.17,581.60 381.23,581.27 387.00,581.60 C392.77,581.93 398.77,582.43 404.60,583.00 C410.43,583.57 416.77,584.10 422.00,585.00 C427.23,585.90 431.33,587.68 436.00,588.40 C440.67,589.12 447.67,589.15 450.00,589.30" fill="none" stroke="#ac7229" stroke-width="1.7" stroke-linejoin="round" stroke-linecap="round"/>
<path d="M175.20,525.00 C175.93,526.60 177.90,532.03 179.60,534.60 C181.30,537.17 183.63,539.18 185.40,540.40 C187.17,541.62 188.28,542.22 190.20,541.90 C192.12,541.58 194.50,541.32 196.90,538.50 C199.30,535.68 202.03,530.45 204.60,525.00 C207.17,519.55 209.73,511.57 212.30,505.80 C214.87,500.03 217.75,494.00 220.00,490.40 C222.25,486.80 224.03,485.38 225.80,484.20 C227.57,483.02 229.13,483.03 230.60,483.30 C232.07,483.57 232.65,483.47 234.60,485.80 C236.55,488.13 239.73,493.13 242.30,497.30 C244.87,501.47 247.43,506.32 250.00,510.80 C252.57,515.28 255.13,520.03 257.70,524.20 C260.27,528.37 262.83,532.27 265.40,535.80 C267.97,539.33 270.22,542.20 273.10,545.40 C275.98,548.60 279.50,552.28 282.70,555.00 C285.90,557.72 289.10,559.72 292.30,561.70 C295.50,563.68 298.70,565.38 301.90,566.90 C305.10,568.42 307.65,569.35 311.50,570.80 C315.35,572.25 318.58,573.65 325.00,575.60 C331.42,577.55 340.83,580.73 350.00,582.50 C359.17,584.27 370.00,585.28 380.00,586.25 C390.00,587.22 400.00,587.79 410.00,588.30 C420.00,588.81 430.00,589.08 440.00,589.30 C450.00,589.52 465.00,589.55 470.00,589.60" fill="none" stroke="#00630e" stroke-width="1.7" stroke-linejoin="round" stroke-linecap="round"/>
<path d="M175.20,514.40 C176.25,512.97 179.17,509.80 181.50,505.80 C183.83,501.80 186.32,495.85 189.20,490.40 C192.08,484.95 195.58,477.58 198.80,473.10 C202.02,468.62 206.00,465.48 208.50,463.50 C211.00,461.52 212.05,460.88 213.80,461.20 C215.55,461.52 217.00,462.47 219.00,465.40 C221.00,468.33 223.83,474.77 225.80,478.80 C227.77,482.83 229.02,484.92 230.80,489.60 C232.58,494.28 234.27,501.13 236.50,506.90 C238.73,512.67 241.32,518.75 244.20,524.20 C247.08,529.65 250.58,534.95 253.80,539.60 C257.02,544.25 260.28,548.57 263.50,552.10 C266.72,555.63 269.90,558.23 273.10,560.80 C276.30,563.37 279.50,565.58 282.70,567.50 C285.90,569.42 289.10,570.85 292.30,572.30 C295.50,573.75 298.70,575.08 301.90,576.20 C305.10,577.32 307.65,577.95 311.50,579.00 C315.35,580.05 318.58,581.20 325.00,582.50 C331.42,583.80 340.83,585.72 350.00,586.80 C359.17,587.88 368.33,588.50 380.00,589.00 C391.67,589.50 413.33,589.67 420.00,589.80" fill="none" stroke="#0303a2" stroke-width="1.7" stroke-linejoin="round" stroke-linecap="round"/>
<path d="M175.20,498.10 C175.93,500.33 177.90,507.65 179.60,511.50 C181.30,515.35 183.32,518.95 185.40,521.20 C187.48,523.45 189.87,525.00 192.10,525.00 C194.33,525.00 196.40,523.77 198.80,521.20 C201.20,518.63 203.93,514.10 206.50,509.60 C209.07,505.10 211.78,498.20 214.20,494.20 C216.62,490.20 219.07,487.42 221.00,485.60 C222.93,483.78 224.13,483.33 225.80,483.30 C227.47,483.27 229.22,484.03 231.00,485.40 C232.78,486.77 234.30,488.23 236.50,491.50 C238.70,494.77 241.63,500.50 244.20,505.00 C246.77,509.50 249.33,514.33 251.90,518.50 C254.47,522.67 257.03,526.32 259.60,530.00 C262.17,533.68 264.73,537.40 267.30,540.60 C269.87,543.80 272.43,546.63 275.00,549.20 C277.57,551.77 279.82,553.68 282.70,556.00 C285.58,558.32 289.10,560.97 292.30,563.10 C295.50,565.23 298.70,567.10 301.90,568.80 C305.10,570.50 307.65,571.77 311.50,573.30 C315.35,574.83 318.58,576.22 325.00,578.00 C331.42,579.78 340.83,582.42 350.00,584.00 C359.17,585.58 370.00,586.67 380.00,587.50 C390.00,588.33 400.00,588.65 410.00,589.00 C420.00,589.35 435.00,589.50 440.00,589.60" fill="none" stroke="#48046a" stroke-width="1.7" stroke-linejoin="round" stroke-linecap="round"/>
<path d="M175.20,514.40 C176.10,515.05 178.75,517.57 180.60,518.30 C182.45,519.03 184.23,519.60 186.30,518.80 C188.37,518.00 190.58,516.32 193.00,513.50 C195.42,510.68 198.22,506.07 200.80,501.90 C203.38,497.73 205.93,492.18 208.50,488.50 C211.07,484.82 213.90,481.67 216.20,479.80 C218.50,477.93 220.38,477.13 222.30,477.30 C224.22,477.47 225.97,478.75 227.70,480.80 C229.43,482.85 230.58,485.57 232.70,489.60 C234.82,493.63 237.83,500.18 240.40,505.00 C242.97,509.82 245.53,514.17 248.10,518.50 C250.67,522.83 253.23,527.17 255.80,531.00 C258.37,534.83 260.62,537.98 263.50,541.50 C266.38,545.02 269.90,549.05 273.10,552.10 C276.30,555.15 279.50,557.40 282.70,559.80 C285.90,562.20 289.10,564.58 292.30,566.50 C295.50,568.42 298.70,569.85 301.90,571.30 C305.10,572.75 307.65,573.82 311.50,575.20 C315.35,576.58 318.58,577.87 325.00,579.60 C331.42,581.33 340.83,584.12 350.00,585.60 C359.17,587.08 368.33,587.82 380.00,588.50 C391.67,589.18 413.33,589.50 420.00,589.70" fill="none" stroke="#e20e78" stroke-width="1.7" stroke-linejoin="round" stroke-linecap="round"/>
<path d="M175.20,498.10 C175.78,500.67 177.32,508.38 178.70,513.50 C180.08,518.62 181.75,524.48 183.50,528.80 C185.25,533.12 187.28,536.90 189.20,539.40 C191.12,541.90 193.45,543.10 195.00,543.80 C196.55,544.50 197.22,544.17 198.50,543.60 C199.78,543.03 200.72,543.50 202.70,540.40 C204.68,537.30 207.83,530.45 210.40,525.00 C212.97,519.55 215.67,512.33 218.10,507.70 C220.53,503.07 222.73,499.43 225.00,497.20 C227.27,494.97 229.45,493.97 231.70,494.30 C233.95,494.63 236.08,496.78 238.50,499.20 C240.92,501.62 243.65,505.27 246.20,508.80 C248.75,512.33 251.25,516.55 253.80,520.40 C256.35,524.25 258.93,528.38 261.50,531.90 C264.07,535.42 266.63,538.62 269.20,541.50 C271.77,544.38 274.33,546.85 276.90,549.20 C279.47,551.55 282.03,553.67 284.60,555.60 C287.17,557.53 289.42,559.03 292.30,560.80 C295.18,562.57 298.70,564.67 301.90,566.20 C305.10,567.73 307.65,568.67 311.50,570.00 C315.35,571.33 318.58,572.62 325.00,574.20 C331.42,575.78 340.83,578.12 350.00,579.50 C359.17,580.88 371.67,581.67 380.00,582.50 C388.33,583.33 393.33,583.78 400.00,584.50 C406.67,585.22 413.33,586.08 420.00,586.80 C426.67,587.52 431.67,588.38 440.00,588.80 C448.33,589.22 460.67,589.18 470.00,589.30 C479.33,589.42 491.67,589.47 496.00,589.50" fill="none" stroke="#b2000c" stroke-width="1.7" stroke-linejoin="round" stroke-linecap="round"/>
<path d="M401.3,435.75 H426.3" stroke="#b2000c" stroke-width="1.6"/>
<text class="b" x="433" y="438.05" font-size="7.9">Control</text>
<path d="M401.3,448.02 H426.3" stroke="#ac7229" stroke-width="1.6"/>
<text class="b" x="433" y="450.32" font-size="7.9">EIPA</text>
<path d="M401.3,460.29 H426.3" stroke="#00630e" stroke-width="1.6"/>
<text class="b" x="433" y="462.59" font-size="7.9">U73122</text>
<path d="M401.3,472.56 H426.3" stroke="#0303a2" stroke-width="1.6"/>
<text class="b" x="433" y="474.86" font-size="7.9">2-APB</text>
<path d="M401.3,484.83 H426.3" stroke="#48046a" stroke-width="1.6"/>
<text class="b" x="433" y="487.13" font-size="7.9">BAPTA-AM</text>
<path d="M401.3,497.10 H426.3" stroke="#e20e78" stroke-width="1.6"/>
<text class="b" x="433" y="499.40" font-size="7.9">BI</text>
</svg></body></html>
